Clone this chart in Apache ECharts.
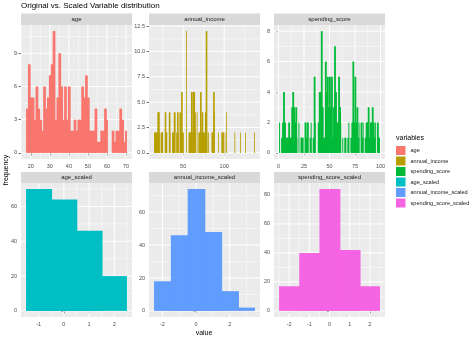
<!DOCTYPE html>
<html><head><meta charset="utf-8">
<script src="https://cdn.jsdelivr.net/npm/echarts@6/dist/echarts.min.js"></script>
<style>html,body{margin:0;padding:0;background:#fff}#c{width:474px;height:338px}</style>
</head><body><div id="c"></div>
<script>
// ---------- data (binwidth = 1, bins centred on integers) ----------
const panelNames = ['age','annual_income','spending_score','age_scaled','annual_income_scaled','spending_score_scaled'];

const ageValues = [18,19,20,21,22,23,24,25,26,27,28,29,30,31,32,33,34,35,36,37,38,39,40,41,42,43,44,45,46,47,48,49,50,51,52,53,54,55,56,57,58,59,60,63,64,65,66,67,68,69,70];
const ageCounts = [4,8,5,5,3,6,4,3,2,6,4,5,7,8,11,3,5,9,6,3,6,3,6,2,2,3,2,3,3,6,5,7,5,2,2,2,4,1,1,2,2,4,3,2,1,2,2,4,3,1,2];

const incomeValues = [15,16,17,18,19,20,21,23,24,25,28,29,30,33,34,37,38,39,40,42,43,44,46,47,48,49,50,54,57,58,59,60,61,62,63,64,65,67,69,70,71,72,73,74,75,76,77,78,79,81,85,86,87,88,93,97,98,99,101,103,113,120,126,137];
const incomeCounts = [2,2,2,2,4,4,2,2,2,2,4,2,2,4,2,2,2,4,4,2,4,2,4,2,6,2,2,12,2,2,2,6,2,6,6,2,4,4,2,2,6,2,4,2,2,2,4,12,2,2,2,2,6,4,2,2,2,2,2,4,2,2,2,2];

const spendValues = [1,3,4,5,6,7,8,9,10,11,12,13,14,15,16,17,18,20,22,23,24,26,27,28,29,31,32,34,35,36,39,40,41,42,43,44,45,46,47,48,49,50,51,52,53,54,55,56,57,58,59,60,61,63,65,66,68,69,71,72,73,74,75,76,77,78,79,81,82,83,85,86,87,88,89,90,91,92,93,94,95,97,98,99];
const spendCounts = [2,1,2,4,2,1,1,1,2,1,1,3,4,3,2,3,1,2,1,1,1,2,1,2,2,1,2,1,5,2,2,4,4,8,3,1,1,6,4,5,3,5,3,5,1,3,7,4,2,2,5,3,2,1,1,1,1,2,1,2,6,2,5,2,3,1,2,2,1,2,1,2,2,3,1,2,2,3,2,1,2,2,1,1];

const ageScaledValues = [-1,0,1,2];
const ageScaledCounts = [70,64,46,20];
const incomeScaledValues = [-2,-1,0,1,2,3];
const incomeScaledCounts = [18,46,74,48,12,2];
const spendScaledValues = [-2,-1,0,1,2];
const spendScaledCounts = [17,40,84,42,17];

// tick labels
const ageXTicks = [20,30,40,50,60,70];
const ageYTicks = [0,3,6,9];
const incomeXTicks = [50,100];
const incomeYTicks = [0,2.5,5,7.5,10,12.5];
const spendXTicks = [0,25,50,75,100];
const spendYTicks = [0,2,4,6,8];
const ageScaledXTicks = [-1,0,1,2];
const ageScaledYTicks = [0,20,40,60];
const incomeScaledXTicks = [-2,0,2];
const incomeScaledYTicks = [0,20,40,60];
const spendScaledXTicks = [-2,-1,0,1,2];
const spendScaledYTicks = [0,20,40,60,80];

const titleText = 'Original vs. Scaled Variable distribution';
const xTitle = 'value';
const yTitle = 'frequency';
const legendTitle = 'variables';

// ---------- styling / layout ----------
const colors = ['#F8766D','#B79F00','#00BA38','#00BFC4','#619CFF','#F564E3'];
const panels = [
  {vals:ageValues, cnts:ageCounts, xt:ageXTicks, yt:ageYTicks},
  {vals:incomeValues, cnts:incomeCounts, xt:incomeXTicks, yt:incomeYTicks, yfmt:1},
  {vals:spendValues, cnts:spendCounts, xt:spendXTicks, yt:spendYTicks},
  {vals:ageScaledValues, cnts:ageScaledCounts, xt:ageScaledXTicks, yt:ageScaledYTicks},
  {vals:incomeScaledValues, cnts:incomeScaledCounts, xt:incomeScaledXTicks, yt:incomeScaledYTicks},
  {vals:spendScaledValues, cnts:spendScaledCounts, xt:spendScaledXTicks, yt:spendScaledYTicks}
];
const colLeft = [21,149,274];
const panelW = 111;
const rowTop = [25,183];
const panelH = 134;
const stripH = [11.5,11];
const bw = 1;
const FONT = 'Liberation Sans, Arial, sans-serif';

function minors(majors, lo, hi){
  const out = [];
  const step = majors.length > 1 ? majors[1]-majors[0] : (hi-lo);
  const first = majors[0] - step/2;
  for (let v = first; v <= hi + 1e-9; v += step) {
    if (v >= lo - 1e-9 && majors.indexOf(v) < 0) out.push(v);
  }
  return out;
}

const grids = [], xAxes = [], yAxes = [], series = [], graphics = [];
panels.forEach((p, i) => {
  const col = i % 3, row = Math.floor(i / 3);
  const left = colLeft[col], top = rowTop[row];
  grids.push({left:left, top:top, width:panelW, height:panelH, show:true, backgroundColor:'#EBEBEB', borderWidth:0, containLabel:false});
  const lo = Math.min(...p.vals) - bw/2, hi = Math.max(...p.vals) + bw/2;
  const xr = hi - lo;
  const xmin = lo - 0.05*xr, xmax = hi + 0.05*xr;
  const cmax = Math.max(...p.cnts);
  const ymin = -0.05*cmax, ymax = 1.05*cmax;
  const tickStyle = {show:true, length:2.5, lineStyle:{color:'#333333', width:0.7}};
  const labStyle = {color:'#4D4D4D', fontSize:5.5, fontFamily:FONT};
  xAxes.push({type:'value', gridIndex:i, min:xmin, max:xmax, axisLine:{show:false}, splitLine:{show:false},
    axisTick:Object.assign({customValues:p.xt}, tickStyle),
    axisLabel:Object.assign({customValues:p.xt, margin:4}, labStyle)});
  yAxes.push({type:'value', gridIndex:i, min:ymin, max:ymax, axisLine:{show:false}, splitLine:{show:false},
    axisTick:Object.assign({customValues:p.yt}, tickStyle),
    axisLabel:Object.assign({customValues:p.yt, margin:4, formatter: p.yfmt ? (v => Number(v).toFixed(1)) : (v => String(v))}, labStyle)});
  // grid lines
  const gl = [];
  minors(p.xt, xmin, xmax).forEach(v => gl.push([v,0,0]));
  minors(p.yt, ymin, ymax).forEach(v => gl.push([v,1,0]));
  p.xt.forEach(v => gl.push([v,0,1]));
  p.yt.forEach(v => gl.push([v,1,1]));
  series.push({type:'custom', name:'grid'+i, xAxisIndex:i, yAxisIndex:i, silent:true, z:1,
    data:gl,
    renderItem:function(params, api){
      const v = api.value(0), t = api.value(1), m = api.value(2);
      const cs = params.coordSys;
      let shape;
      if (t === 0) { const x = api.coord([v, 0])[0]; shape = {x1:x, y1:cs.y, x2:x, y2:cs.y+cs.height}; }
      else { const y = api.coord([xmin, v])[1]; shape = {x1:cs.x, y1:y, x2:cs.x+cs.width, y2:y}; }
      return {type:'line', shape:shape, style:{stroke:'#FFFFFF', lineWidth: m ? 1 : 0.5}};
    }});
  // bars
  const data = p.vals.map((v, k) => [v, p.cnts[k]]);
  const color = colors[i];
  const present = new Set(p.vals);
  series.push({type:'custom', name:panelNames[i], xAxisIndex:i, yAxisIndex:i, z:2,
    itemStyle:{color:color},
    data:data,
    renderItem:function(params, api){
      const c = api.value(0), n = api.value(1);
      const p0 = api.coord([c - bw/2, 0]);
      const p1 = api.coord([c + bw/2, n]);
      // overlap slightly into a neighbouring bar to avoid anti-aliasing seams
      const extra = present.has(c + bw) ? 0.8 : 0;
      return {type:'rect', shape:{x:p0[0], y:p1[1], width:p1[0]-p0[0]+extra, height:p0[1]-p1[1]},
        style:{fill:color}};
    }});
  // strip
  const sTop = top - stripH[row];
  graphics.push({type:'rect', left:left, top:sTop, shape:{width:panelW, height:stripH[row]}, style:{fill:'#D9D9D9'}, silent:true});
  graphics.push({type:'text', x:left + panelW/2, y:sTop + stripH[row]/2, style:{text:panelNames[i], fill:'#1A1A1A', fontSize:6, fontFamily:FONT, align:'center', verticalAlign:'middle'}, silent:true});
});

graphics.push({type:'text', x:21, y:6, style:{text:titleText, fill:'#000', fontSize:8, fontFamily:FONT, align:'left', verticalAlign:'middle'}});
graphics.push({type:'text', x:204, y:333, style:{text:xTitle, fill:'#000', fontSize:7, fontFamily:FONT, align:'center', verticalAlign:'middle'}});
graphics.push({type:'text', x:6, y:170, rotation:Math.PI/2, style:{text:yTitle, fill:'#000', fontSize:7, fontFamily:FONT, align:'center', verticalAlign:'middle'}});
graphics.push({type:'text', x:396, y:138.5, style:{text:legendTitle, fill:'#000', fontSize:7, fontFamily:FONT, align:'left', verticalAlign:'middle'}});

const chart = echarts.init(document.getElementById('c'), null, {renderer:'canvas'});
chart.setOption({
  animation:false,
  backgroundColor:'#FFFFFF',
  grid:grids, xAxis:xAxes, yAxis:yAxes, series:series,
  legend:{data:panelNames, orient:'vertical', left:396, top:146, itemWidth:9.5, itemHeight:9, itemGap:1.5, icon:'rect', padding:0,
    selectedMode:false, textStyle:{fontSize:5.6, color:'#1A1A1A', fontFamily:FONT}},
  graphic:{elements:graphics}
});
</script>
</body></html>
